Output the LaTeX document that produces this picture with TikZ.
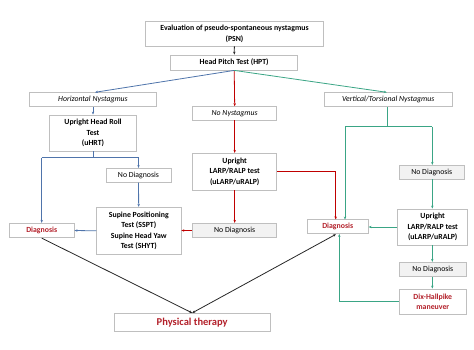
\documentclass[tikz,border=0pt]{standalone}
\usepackage{fontspec}
\setmainfont{Carlito}
\usetikzlibrary{arrows.meta}
\definecolor{blc}{HTML}{4F74AB}
\definecolor{grc}{HTML}{3AA585}
\definecolor{rdc}{HTML}{C00000}
\definecolor{trc}{HTML}{B3202A}
\definecolor{bxc}{HTML}{BFBFBF}
\definecolor{gfc}{HTML}{F2F2F2}
\tikzset{
  box/.style={draw=bxc, line width=0.8pt, fill=white, inner sep=0pt, align=center,
    font=\fontsize{7.8}{10.3}\selectfont\bfseries},
  itbox/.style={box, font=\fontsize{7.8}{10.3}\selectfont\itshape},
  ndbox/.style={box, font=\fontsize{7.8}{10.3}\selectfont},
  redtxt/.style={text=trc},
  ln/.style={line width=0.8pt},
  arr/.style={ln, -{Stealth[length=3pt,width=2.4pt]}},
  blkarr/.style={arr, color=black!85},
  bluarr/.style={arr, color=blc},
  grnarr/.style={arr, color=grc},
  redarr/.style={arr, color=rdc},
  bluln/.style={ln, color=blc},
  grnln/.style={ln, color=grc},
  redln/.style={ln, color=rdc},
}
\begin{document}
\begin{tikzpicture}[x=1pt,y=-1pt]
\useasboundingbox (0,0) rectangle (474,349);
\node[box, minimum width=177.6pt, minimum height=24.3pt] (psn) at (234.5,33.8) {Evaluation of pseudo-spontaneous nystagmus\\(PSN)};
\node[box, minimum width=127pt, minimum height=15pt] (hpt) at (234.2,62.5) {Head Pitch Test (HPT)};
\node[itbox, minimum width=127.4pt, minimum height=14pt] (hn) at (93,99.7) {Horizontal Nystagmus};
\node[itbox, minimum width=128pt, minimum height=14pt] (vt) at (388.3,99.7) {Vertical/Torsional Nystagmus};
\node[itbox, minimum width=84pt, minimum height=13.3pt] (nn) at (234.7,113.3) {No Nystagmus};
\node[box, minimum width=87.4pt, minimum height=36pt] (uhrt) at (93,133) {Upright Head Roll\\Test\\(uHRT)};
\node[ndbox, minimum width=65pt, minimum height=14pt] (nd1) at (138.5,175.3) {No Diagnosis};
\node[box, minimum width=84.3pt, minimum height=47pt] (sspt) at (138.8,230.8) {Supine Positioning\\Test (SSPT)\\Supine Head Yaw\\Test (SHYT)};
\node[box, redtxt, minimum width=64.7pt, minimum height=14.4pt] (diag1) at (41.7,230.5) {Diagnosis};
\node[box, minimum width=84pt, minimum height=36.7pt] (larp1) at (234.7,171.7) {Upright\\LARP/RALP test\\(uLARP/uRALP)};
\node[ndbox, fill=gfc, minimum width=84pt, minimum height=14.4pt] (nd2) at (234.7,230.5) {No Diagnosis};
\node[box, redtxt, minimum width=61pt, minimum height=14.3pt] (diag2) at (337.7,226.7) {Diagnosis};
\node[ndbox, fill=gfc, minimum width=65pt, minimum height=13.7pt] (nd3) at (431.8,172.2) {No Diagnosis};
\node[box, minimum width=70pt, minimum height=36pt] (larp2) at (432.7,227) {Upright\\LARP/RALP test\\(uLARP/uRALP)};
\node[ndbox, fill=gfc, minimum width=67.7pt, minimum height=14.4pt] (nd4) at (432.8,269.5) {No Diagnosis};
\node[box, redtxt, minimum width=67.7pt, minimum height=25pt] (dix) at (432.8,301.5) {Dix-Hallpike\\maneuver};
\node[box, redtxt, font=\fontsize{10.5}{12}\selectfont\bfseries, minimum width=155.7pt, minimum height=18.4pt] (pt) at (192.2,322.5) {Physical therapy};
% connectors
\draw[blkarr] (psn) -- (hpt);
\draw[bluarr] (hpt.south) -- ([xshift=2pt]hn.north);
\draw[redarr] (hpt.south) -- (nn.north);
\draw[grnarr] (hpt.south) -- ([xshift=-1.5pt]vt.north);
\draw[bluarr] (hn) -- (uhrt);
\coordinate (b1) at (93,157.7);
\coordinate (b2) at (41.7,157.7);
\coordinate (b3) at (138.5,157.7);
\draw[bluln] (uhrt.south) -- (b1);
\draw[bluln] (b2) -- (b3);
\draw[bluarr] (b2) -- (diag1.north);
\draw[bluarr] (b3) -- (nd1.north);
\draw[bluarr] (nd1) -- (sspt);
\draw[bluarr] (sspt.west) -- (diag1.east);
\draw[redarr] (nn) -- (larp1);
\draw[redarr] (larp1) -- (nd2);
\draw[redarr] (nd2.west) -- (nd2.west -| sspt.east);
\coordinate (r0) at (276.7,171);
\coordinate (r1) at (335.7,171);
\coordinate (r2) at (335.7,219.5);
\draw[redln] (larp1.east |- r0) -- (r1);
\draw[redarr] (r1) -- (r2);
\coordinate (g0) at (387.7,106.7);
\coordinate (g1) at (387.7,126.7);
\coordinate (g2) at (345,126.7);
\coordinate (g2b) at (345,219.5);
\coordinate (g3) at (432.3,126.7);
\draw[grnln] (vt.south -| g0) -- (g1);
\draw[grnln] (g2) -- (g3);
\draw[grnarr] (g2) -- (g2b);
\draw[grnarr] (g3) -- (g3 |- nd3.north);
\draw[grnarr] (g3 |- nd3.south) -- (g3 |- larp2.north);
\draw[grnarr] (larp2.west) -- (larp2.west -| diag2.east);
\draw[grnarr] (g3 |- larp2.south) -- (g3 |- nd4.north);
\draw[grnarr] (g3 |- nd4.south) -- (g3 |- dix.north);
\coordinate (g4) at (339.3,301);
\coordinate (g5) at (339.3,233.9);
\draw[grnln] (dix.west |- g4) -- (g4);
\draw[grnarr] (g4) -- (g5);
\draw[blkarr] (diag1.south) -- (pt.north);
\draw[blkarr, {Stealth[length=3pt,width=2.4pt]}-{Stealth[length=3pt,width=2.4pt]}] (pt.north) -- ([xshift=-1.7pt]diag2.south);
\end{tikzpicture}
\end{document}
